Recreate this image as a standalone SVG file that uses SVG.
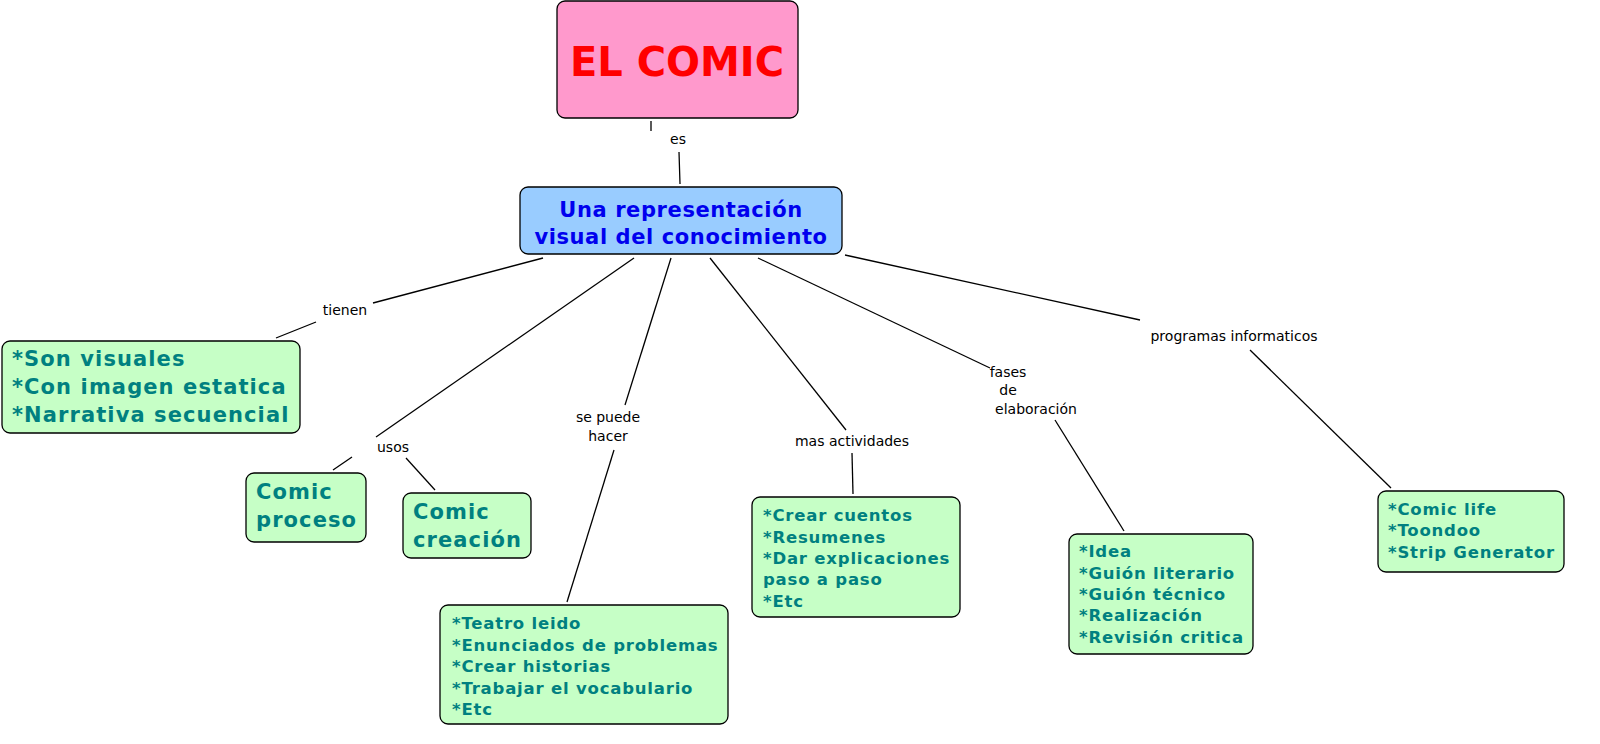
<svg xmlns="http://www.w3.org/2000/svg" width="1600" height="744" viewBox="0 0 1600 744">
<style>
.n{stroke:#000;stroke-width:1.3}
.g{fill:#c6ffc6}
.t{font-family:"DejaVu Sans",Verdana,sans-serif;font-weight:bold;fill:#008080;letter-spacing:0.8px}
.b{letter-spacing:1.1px}
.l{font-family:"DejaVu Sans",Verdana,sans-serif;font-size:14px;fill:#000;text-anchor:middle}
#c line{stroke:#000;stroke-width:1.3}
</style>
<rect width="1600" height="744" fill="#fff"/>
<g id="c">
<line x1="651" y1="121" x2="651" y2="131"/><line x1="679" y1="152" x2="680" y2="184"/>
<line x1="543" y1="258" x2="373" y2="303"/><line x1="316" y1="322" x2="276" y2="338"/>
<line x1="634" y1="258" x2="376" y2="437"/><line x1="352" y1="457" x2="333" y2="470"/><line x1="406" y1="458" x2="435" y2="490"/>
<line x1="671" y1="258" x2="625" y2="405"/><line x1="614" y1="450" x2="567" y2="602"/>
<line x1="710" y1="258" x2="846" y2="430"/><line x1="852" y1="453" x2="853" y2="494"/>
<line x1="758" y1="258" x2="990" y2="368"/><line x1="1055" y1="420" x2="1124" y2="531"/>
<line x1="845" y1="255" x2="1140" y2="320"/><line x1="1250" y1="350" x2="1391" y2="488"/>
<text class="l" x="345" y="315">tienen</text>
<text class="l" x="678" y="144">es</text>
<text class="l" x="393" y="452">usos</text>
<text class="l" x="608" y="422">se puede</text><text class="l" x="608" y="441">hacer</text>
<text class="l" x="852" y="446">mas actividades</text>
<text class="l" x="1008" y="377">fases</text><text class="l" x="1008" y="395">de</text><text class="l" x="1036" y="414">elaboración</text>
<text class="l" x="1234" y="341">programas informaticos</text>
</g>
<g id="n1"><rect class="n" x="557" y="1" width="241" height="117" rx="8" fill="#ff99cc"/>
<text x="677" y="76" text-anchor="middle" font-family="DejaVu Sans,Verdana,sans-serif" font-weight="bold" font-size="40" fill="#ff0000">EL COMIC</text></g>
<g id="n2"><rect class="n" x="520" y="187" width="322" height="67" rx="8" fill="#99ccff"/>
<text x="681" y="217" text-anchor="middle" font-family="DejaVu Sans,Verdana,sans-serif" font-weight="bold" font-size="21" fill="#0000ee" letter-spacing="0.6">Una representación</text>
<text x="681" y="244" text-anchor="middle" font-family="DejaVu Sans,Verdana,sans-serif" font-weight="bold" font-size="21" fill="#0000ee" letter-spacing="0.6">visual del conocimiento</text></g>
<g id="n3"><rect class="n g" x="2" y="341" width="298" height="92" rx="8"/>
<text class="t b" font-size="21"><tspan x="12" y="366">*Son visuales</tspan><tspan x="12" y="394">*Con imagen estatica</tspan><tspan x="12" y="422">*Narrativa secuencial</tspan></text></g>
<g id="n4"><rect class="n g" x="246" y="473" width="120" height="69" rx="8"/>
<text class="t b" font-size="21"><tspan x="256" y="499">Comic</tspan><tspan x="256" y="527">proceso</tspan></text></g>
<g id="n5"><rect class="n g" x="403" y="493" width="128" height="65" rx="8"/>
<text class="t b" font-size="21"><tspan x="413" y="519">Comic</tspan><tspan x="413" y="547">creación</tspan></text></g>
<g id="n6"><rect class="n g" x="440" y="605" width="288" height="119" rx="8"/>
<text class="t" font-size="16.5"><tspan x="452" y="629">*Teatro leido</tspan><tspan x="452" y="651">*Enunciados de problemas</tspan><tspan x="452" y="672">*Crear historias</tspan><tspan x="452" y="694">*Trabajar el vocabulario</tspan><tspan x="452" y="715">*Etc</tspan></text></g>
<g id="n7"><rect class="n g" x="752" y="497" width="208" height="120" rx="8"/>
<text class="t" font-size="16.5"><tspan x="763" y="521">*Crear cuentos</tspan><tspan x="763" y="543">*Resumenes</tspan><tspan x="763" y="564">*Dar explicaciones</tspan><tspan x="763" y="585">paso a paso</tspan><tspan x="763" y="607">*Etc</tspan></text></g>
<g id="n8"><rect class="n g" x="1069" y="534" width="184" height="120" rx="8"/>
<text class="t" font-size="16.5"><tspan x="1079" y="557">*Idea</tspan><tspan x="1079" y="579">*Guión literario</tspan><tspan x="1079" y="600">*Guión técnico</tspan><tspan x="1079" y="621">*Realización</tspan><tspan x="1079" y="643">*Revisión critica</tspan></text></g>
<g id="n9"><rect class="n g" x="1378" y="491" width="186" height="81" rx="8"/>
<text class="t" font-size="16.5"><tspan x="1388" y="515">*Comic life</tspan><tspan x="1388" y="536">*Toondoo</tspan><tspan x="1388" y="558">*Strip Generator</tspan></text></g>
</svg>
